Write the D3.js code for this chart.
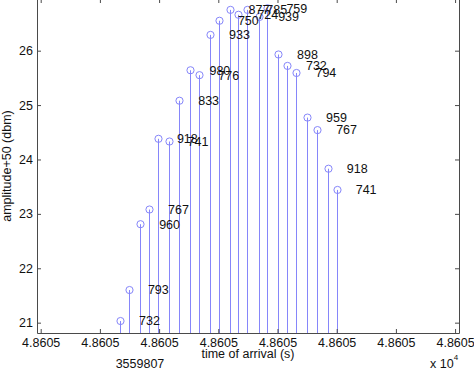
<!DOCTYPE html>
<html lang="en">
<head>
	<meta charset="UTF-8">
	<title>stem_arrival</title>
	<script type="text/javascript" src="https://cdn.jsdelivr.net/npm/d3@7/dist/d3.min.js"></script>
	<style>
		body { margin: 0; background: #fff; }
		svg { display: block; font-family: 'Liberation Sans', Arial, Helvetica, sans-serif; }
	</style>
</head>
<body>
<svg></svg>
<script>
	// arrival time (s), amplitude+50 (dbm) and the id printed next to each stem
	var arrivalTime = [48604.9734, 48604.9749, 48604.9768, 48604.9783, 48604.9798, 48604.9816,
		48604.9834, 48604.9853, 48604.9868, 48604.9886, 48604.9901, 48604.9919,
		48604.9934, 48604.9949, 48604.9969, 48604.9983, 48605.0001, 48605.0016,
		48605.0032, 48605.0050, 48605.0067, 48605.0085, 48605.0100];
	var amplitude = [21.03, 21.60, 22.81, 23.08, 24.38, 24.33,
		25.08, 25.64, 25.55, 26.29, 26.55, 26.75,
		26.66, 26.75, 26.62, 26.78, 25.93, 25.72,
		25.59, 24.77, 24.54, 23.83, 23.44];
	var pointId = ['732', '793', '960', '767', '918', '741',
		'833', '980', '776', '933', '750', '877',
		'724', '785', '939', '759', '898', '732',
		'794', '959', '767', '918', '741'];

	var xTicks = [48604.96, 48604.97, 48604.98, 48604.99, 48605.00, 48605.01, 48605.02, 48605.03];
	var yTicks = [21, 22, 23, 24, 25, 26];
	var xDomain = [48604.959375, 48605.03066];
	var yDomain = [20.81, 26.95];

	var W = 474, H = 370;
	var box = { left: 37, right: 459, top: -1, bottom: 333 };
	var fs = 12.5;

	var svg = d3.select('svg')
				.attr('width', W)
				.attr('height', H);

	var x = d3.scaleLinear()
				.domain(xDomain)
				.range([box.left, box.right]);

	var y = d3.scaleLinear()
				.domain(yDomain)
				.range([box.bottom, box.top]);

	var axisColor = '#4a4a4a';
	var stemColor = '#8686fa';

	// stems first, axes drawn over them
	var data = arrivalTime.map(function (t, i) {
		return { t: t, v: amplitude[i], id: pointId[i] };
	});

	svg.append('g')
		.selectAll('line')
		.data(data)
		.enter().append('line')
		.attr('x1', function (d) { return Math.round(x(d.t)) + 0.5; })
		.attr('x2', function (d) { return Math.round(x(d.t)) + 0.5; })
		.attr('y1', function (d) { return y(d.v); })
		.attr('y2', box.bottom)
		.attr('stroke', stemColor)
		.attr('stroke-width', 1);

	svg.append('g')
		.selectAll('circle')
		.data(data)
		.enter().append('circle')
		.attr('cx', function (d) { return Math.round(x(d.t)) + 0.5; })
		.attr('cy', function (d) { return y(d.v); })
		.attr('r', 3.6)
		.attr('fill', 'none')
		.attr('stroke', stemColor)
		.attr('stroke-width', 1);

	svg.append('g')
		.selectAll('text')
		.data(data)
		.enter().append('text')
		.attr('x', function (d) { return x(d.t) + 19; })
		.attr('y', function (d) { return y(d.v); })
		.attr('dy', '0.35em')
		.attr('font-size', fs)
		.attr('fill', '#111')
		.text(function (d) { return d.id; });

	function styleAxis(g) {
		g.select('.domain').attr('stroke', axisColor);
		g.selectAll('.tick line').attr('stroke', axisColor);
		g.selectAll('.tick text').attr('fill', '#111').attr('font-size', fs)
			.attr('font-family', "'Liberation Sans', Arial, Helvetica, sans-serif");
	}

	var fmt = function (d) { return (d / 1e4).toFixed(4); };

	svg.append('g')
		.attr('transform', 'translate(0,' + box.bottom + ')')
		.call(d3.axisBottom(x).tickValues(xTicks).tickFormat(fmt).tickSizeInner(-4).tickSizeOuter(0).tickPadding(5))
		.call(styleAxis);

	svg.append('g')
		.attr('transform', 'translate(0,' + box.top + ')')
		.call(d3.axisTop(x).tickValues(xTicks).tickFormat('').tickSizeInner(-4).tickSizeOuter(0))
		.call(styleAxis);

	svg.append('g')
		.attr('transform', 'translate(' + box.left + ',0)')
		.call(d3.axisLeft(y).tickValues(yTicks).tickFormat(d3.format('d')).tickSizeInner(-4).tickSizeOuter(0).tickPadding(4))
		.call(styleAxis);

	svg.append('g')
		.attr('transform', 'translate(' + box.right + ',0)')
		.call(d3.axisRight(y).tickValues(yTicks).tickFormat('').tickSizeInner(-4).tickSizeOuter(0))
		.call(styleAxis);

	// labels
	svg.append('text')
		.attr('x', (box.left + box.right) / 2)
		.attr('y', 358)
		.attr('text-anchor', 'middle')
		.attr('font-size', fs)
		.attr('fill', '#111')
		.text('time of arrival (s)');

	svg.append('text')
		.attr('transform', 'translate(11,' + (box.top + box.bottom) / 2 + ') rotate(-90)')
		.attr('text-anchor', 'middle')
		.attr('font-size', fs)
		.attr('fill', '#111')
		.text('amplitude+50 (dbm)');

	svg.append('text')
		.attr('x', 140)
		.attr('y', 368)
		.attr('text-anchor', 'middle')
		.attr('font-size', fs)
		.attr('fill', '#111')
		.text('3559807');

	var mult = svg.append('text')
		.attr('x', 430)
		.attr('y', 368)
		.attr('font-size', fs)
		.attr('fill', '#111')
		.text('x 10');
	mult.append('tspan')
		.attr('dy', -8)
		.attr('font-size', 8)
		.text('4');
</script>
</body>
</html>
